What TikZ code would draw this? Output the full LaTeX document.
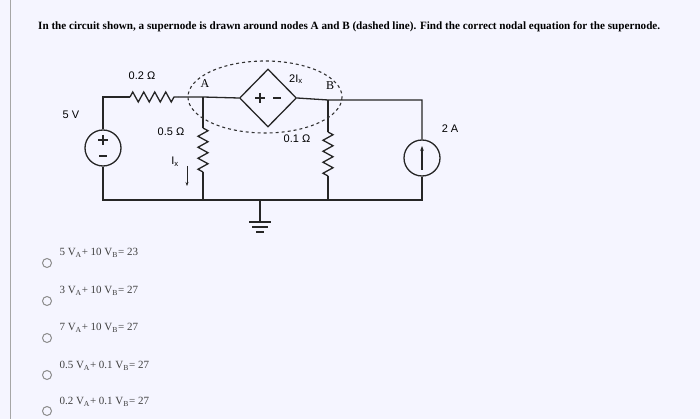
\documentclass[tikz,border=0pt]{standalone}
\usepackage{fontspec}
\setmainfont{Liberation Serif}
\newfontfamily\lsans{Liberation Sans}
\usetikzlibrary{decorations.pathmorphing,shapes.geometric,arrows.meta}
\tikzset{
  wire/.style={line width=1.3pt,black!85},
  res/.style={line width=1.3pt,black!85,decorate,decoration={zigzag,segment length=11pt,amplitude=5pt}},
  lbl/.style={font=\lsans\fontsize{11}{13}\selectfont,inner sep=1pt},
  sgn/.style={line width=1.6pt,black!85},
  opt/.style={font=\fontsize{11}{13}\selectfont,anchor=west,text=black!75},
  radio/.style={circle,draw=black!45,line width=1pt,minimum size=9pt,inner sep=0pt}
}
\begin{document}
\begin{tikzpicture}[x=1pt,y=-1pt]
\fill[blue!4] (0,0) rectangle (700,419);
\useasboundingbox (0,0) rectangle (700,419);
\draw[black!35,line width=1pt] (10,0) -- (10,419);
\node[anchor=west,inner sep=0pt] (title) at (38,27) {\resizebox{622pt}{!}{\bfseries In the circuit shown, a supernode is drawn around nodes A and B (dashed line). Find the correct nodal equation for the supernode.}};
\coordinate (TL) at (103,97);
\coordinate (R1a) at (130,97);
\coordinate (R1b) at (178,97);
\coordinate (A) at (203,97);
\coordinate (B) at (328,100);
\coordinate (TR) at (422,100);
\coordinate (BL) at (103,200);
\coordinate (BA) at (203,200);
\coordinate (G) at (260,200);
\coordinate (BB) at (328,200);
\coordinate (BR) at (422,200);
\node[diamond,draw,line width=1.3pt,black!85,minimum width=57pt,minimum height=58pt,inner sep=0pt] (D) at (268,98) {};
\draw[sgn] (255,98) -- (265,98) (260,93) -- (260,103);
\draw[sgn] (273,98) -- (281,98);
\node[circle,draw,line width=1.3pt,black!85,minimum size=36pt] (V) at (103,148) {};
\draw[sgn] (98,140) -- (108,140) (103,135) -- (103,145);
\draw[sgn] (99,156) -- (107,156);
\node[circle,draw,line width=1.3pt,black!85,minimum size=36pt] (I) at (422,158) {};
\draw[wire,-{Stealth[length=5pt]}] (422,170) -- (422,146);
\draw[wire] (V.north) -- (TL) -- (R1a);
\draw[res] (R1a) -- (R1b);
\draw[wire] (R1b) -- (A) -- (D.west);
\draw[wire] (D.east) -- (B) -- (TR) -- (I.north);
\draw[wire] (I.south) -- (BR) -- (BA) -- (BL) -- (V.south);
\draw[wire] (A) -- (203,128);
\draw[res] (203,128) -- (203,172);
\draw[wire] (203,172) -- (BA);
\draw[wire] (B) -- (328,132);
\draw[res] (328,132) -- (328,176);
\draw[wire] (328,176) -- (BB);
\draw[wire] (G) -- (260,222);
\draw[wire] (249,222) -- (271,222) (252,227) -- (268,227) (256,232) -- (264,232);
\draw[black!80,line width=1.1pt,dashed] (265,97) ellipse (77 and 36);
\node[lbl] at (142,76) {0.2 Ω};
\node[lbl,font=\fontsize{12}{14}\selectfont] at (205,84) {A};
\node[lbl] at (296,79) {2I\textsubscript{x}};
\node[lbl,font=\fontsize{12}{14}\selectfont] at (330,86) {B};
\node[lbl] at (71,115) {5 V};
\node[lbl] at (171,132) {0.5 Ω};
\node[lbl] at (297,139) {0.1 Ω};
\node[lbl] at (450,129) {2 A};
\node[lbl] at (175,162) {I\textsubscript{x}};
\draw[wire,line width=1pt,-{Stealth[length=4pt]}] (187,166) -- (187,186);
\node[opt] (o1) at (56,253) {5 V\textsubscript{A}+ 10 V\textsubscript{B}= 23};
\node[opt] (o2) at (56,291) {3 V\textsubscript{A}+ 10 V\textsubscript{B}= 27};
\node[opt] (o3) at (56,328) {7 V\textsubscript{A}+ 10 V\textsubscript{B}= 27};
\node[opt] (o4) at (56,366) {0.5 V\textsubscript{A}+ 0.1 V\textsubscript{B}= 27};
\node[opt] (o5) at (56,402) {0.2 V\textsubscript{A}+ 0.1 V\textsubscript{B}= 27};
\node[radio] (r1) at (47,263) {};
\node[radio] (r2) at (47,301) {};
\node[radio] (r3) at (47,338) {};
\node[radio] (r4) at (47,375) {};
\node[radio] (r5) at (47,411) {};
\end{tikzpicture}
\end{document}
